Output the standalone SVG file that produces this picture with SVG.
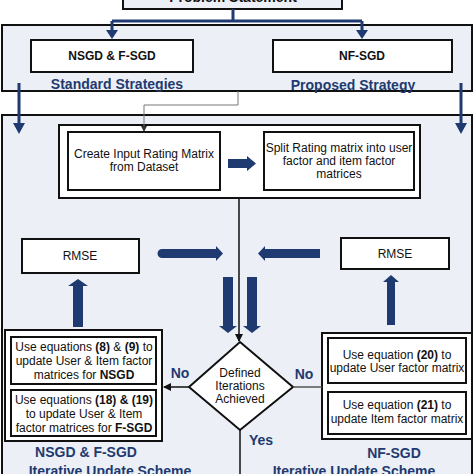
<svg xmlns="http://www.w3.org/2000/svg" width="474" height="474" viewBox="0 0 474 474">
<style>
.panel{fill:#ECF0F6;stroke:#111;stroke-width:2}
.box{fill:#fff;stroke:#111;stroke-width:2}
.t{font-family:"Liberation Sans",Arial,sans-serif;font-size:12px;fill:#111;text-anchor:middle}
.b{font-weight:bold}
.lbl{font-family:"Liberation Sans",Arial,sans-serif;font-size:14px;font-weight:bold;fill:#1E3A70;text-anchor:middle}
.blue{fill:none;stroke:#1E3A70;stroke-width:3}
.blk{fill:#1E3A70}
</style>
<defs>
<marker id="ab" markerWidth="8" markerHeight="8" refX="7" refY="4" orient="auto" markerUnits="userSpaceOnUse">
<path d="M0,0 L8,4 L0,8 z" fill="#111"/>
</marker>
<marker id="ag" markerWidth="6" markerHeight="6" refX="5" refY="3" orient="auto" markerUnits="userSpaceOnUse">
<path d="M0,0 L6,3 L0,6 z" fill="#333"/>
</marker>
</defs>

<g id="problem">
<rect class="panel" x="123" y="-20" width="219" height="29"/>
<text class="t b" x="233" y="2" style="font-size:14px">Problem Statement</text>
</g>

<g id="strategies-panel">
<rect class="panel" x="2" y="25" width="470" height="66"/>
<text class="lbl" x="117" y="89">Standard Strategies</text>
<text class="lbl" x="353" y="90">Proposed Strategy</text>
</g>
<g id="nsgd-fsgd">
<rect class="box" x="31" y="40" width="162" height="32"/>
<text class="t b" x="112" y="60">NSGD &amp; F-SGD</text>
</g>
<g id="nfsgd">
<rect class="box" x="273" y="40" width="179" height="32"/>
<text class="t b" x="362" y="60">NF-SGD</text>
</g>

<g id="process-panel">
<rect class="panel" x="2" y="115" width="470" height="370"/>
</g>

<g id="prep-group">
<rect class="box" x="59" y="125" width="361" height="73"/>
</g>
<g id="create">
<rect class="box" x="68" y="132" width="152" height="58"/>
<text class="t" x="144" y="158">Create Input Rating Matrix</text>
<text class="t" x="144" y="171">from Dataset</text>
</g>
<g id="split">
<rect class="box" x="264" y="132" width="150" height="58"/>
<text class="t" x="339" y="152">Split Rating matrix into user</text>
<text class="t" x="339" y="165">factor and item factor</text>
<text class="t" x="339" y="178">matrices</text>
</g>

<g id="rmse-left">
<rect class="box" x="22" y="239" width="117" height="34"/>
<text class="t" x="80" y="260">RMSE</text>
</g>
<g id="rmse-right">
<rect class="box" x="341" y="238" width="108" height="31"/>
<text class="t" x="395" y="258">RMSE</text>
</g>

<g id="decision">
<polygon points="240,342 293,387 240,430 189,387" fill="#fff" stroke="#111" stroke-width="2"/>
<text class="t" x="240" y="377">Defined</text>
<text class="t" x="240" y="390">Iterations</text>
<text class="t" x="240" y="403">Achieved</text>
</g>

<g id="left-update">
<rect class="box" x="5" y="330" width="157" height="111"/>
<rect class="box" x="11" y="337" width="145" height="47"/>
<text class="t" x="84" y="351">Use equations <tspan class="b">(8)</tspan> &amp; <tspan class="b">(9)</tspan> to</text>
<text class="t" x="84" y="365">update User &amp; Item factor</text>
<text class="t" x="84" y="379">matrices for <tspan class="b">NSGD</tspan></text>
<rect class="box" x="11" y="390" width="145" height="46"/>
<text class="t" x="84" y="404">Use equations <tspan class="b">(18) &amp; (19)</tspan></text>
<text class="t" x="84" y="418">to update User &amp; Item</text>
<text class="t" x="84" y="432">factor matrices for <tspan class="b">F-SGD</tspan></text>
<text class="lbl" x="86" y="457">NSGD &amp; F-SGD</text>
<text class="lbl" x="110" y="476">Iterative Update Scheme</text>
</g>

<g id="right-update">
<rect class="box" x="322" y="333" width="150" height="106"/>
<rect class="box" x="328" y="338" width="138" height="45"/>
<text class="t" x="397" y="359">Use equation <tspan class="b">(20)</tspan> to</text>
<text class="t" x="397" y="372">update User factor matrix</text>
<rect class="box" x="328" y="392" width="138" height="42"/>
<text class="t" x="397" y="409">Use equation <tspan class="b">(21)</tspan> to</text>
<text class="t" x="397" y="423">update Item factor matrix</text>
<text class="lbl" x="394" y="458">NF-SGD</text>
<text class="lbl" x="354" y="476">Iterative Update Scheme</text>
</g>

<g id="connectors">
<path class="blue" d="M233,9 V21 M112,21 H362 M112,21 V31 M362,21 V31"/>
<path class="blk" d="M106,30 L118,30 L112,39 z M356,30 L368,30 L362,39 z"/>
<path class="blue" d="M19,83 V125 M461,83 V125"/>
<path class="blk" d="M13,123 L25,123 L19,134 z M455,123 L467,123 L461,134 z"/>
<path d="M238,91 V105 H144 V131" fill="none" stroke="#777" stroke-width="1" marker-end="url(#ag)"/>
<path d="M228,159 H247 V156 L256,163.5 L247,171 V168 H228 z" class="blk"/>
<path d="M239,198 V341" fill="none" stroke="#111" stroke-width="1.5" marker-end="url(#ab)"/>
<path d="M189,387 H164" fill="none" stroke="#111" stroke-width="1.5" marker-end="url(#ab)"/>
<path d="M293,387 H322" fill="none" stroke="#555" stroke-width="1.5"/>
<path d="M240,430 V474" fill="none" stroke="#111" stroke-width="1.5"/>
<text class="lbl" x="180" y="378">No</text>
<text class="lbl" x="304" y="379">No</text>
<text class="lbl" x="261" y="445">Yes</text>
<path class="blk" d="M162,249 H216 V246 L223,253.5 L216,261 V258 H162 A4.5,4.5 0 0 1 162,249 z"/>
<path class="blk" d="M320,249 H265 V246 L258,253.5 L265,261 V258 H320 z"/>
<path class="blk" d="M223,277 H233 V326 H237 L228,333 L219,326 H223 z"/>
<path class="blk" d="M247,277 H257 V326 H261 L252,333 L243,326 H247 z"/>
<path class="blk" d="M73,327 V286 H68 L78,279 L88,286 H83 V327 z"/>
<path class="blk" d="M387,325 V282 H383 L391,275 L399,282 H395 V325 z"/>
</g>
</svg>
